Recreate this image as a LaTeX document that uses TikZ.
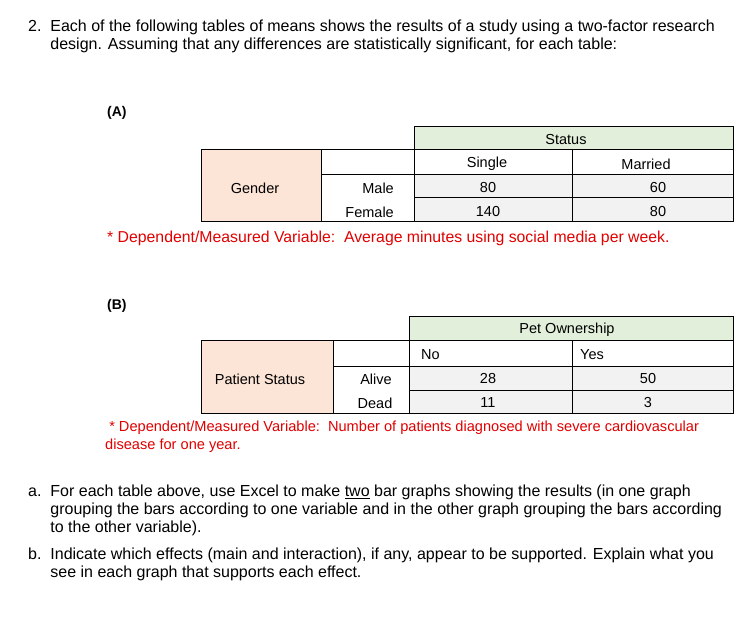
\documentclass[tikz,border=0pt]{standalone}
\usepackage{fontspec}
\setmainfont{Liberation Sans}
\usetikzlibrary{positioning}
\definecolor{hdrgreen}{HTML}{E2EFDA}
\definecolor{facorange}{HTML}{FCE4D6}
\definecolor{cellgrey}{HTML}{F2F2F2}
\definecolor{notered}{HTML}{E00000}
\tikzset{
  body/.style={anchor=west,inner sep=0pt,font=\fontsize{16}{18}\selectfont,align=left},
  cell/.style={inner sep=0pt,font=\fontsize{14.5}{16}\selectfont},
  note/.style={anchor=west,inner sep=0pt,text=notered,align=left},
  grid/.style={draw=black,line width=0.6pt},
}
\begin{document}
\begin{tikzpicture}[x=1pt,y=-1pt]
  \useasboundingbox (0,0) rectangle (747,632);
  % question text
  \node (q) [body] at (28,36) {2.\ \ Each of the following tables of means shows the results of a study using a two-factor research\\
  \phantom{2.\ \ }design. Assuming that any differences are statistically significant, for each table:};
  \node (la) [body,font=\fontsize{14}{16}\selectfont\bfseries] at (107,113) {(A)};
  % table A
  \fill[hdrgreen] (414,126) rectangle (733,149);
  \fill[facorange] (201,149) rectangle (321,221);
  \fill[cellgrey] (414,174) rectangle (733,221);
  \draw[grid] (414,126) rectangle (733,221);
  \draw[grid] (201,149) rectangle (733,221);
  \draw[grid] (321,149) -- (321,221);
  \draw[grid] (414,149) -- (733,149) (572,149) -- (572,221);
  \draw[grid] (321,174) -- (733,174) (414,197) -- (733,197);
  \node (status) [cell] at (566,140) {Status};
  \node (single) [cell] at (487,164) {Single};
  \node (married) [cell] at (646,164) {Married};
  \node (gender) [cell] at (255,188) {Gender};
  \node (male) [cell,anchor=east] at (394,188) {Male};
  \node (female) [cell,anchor=east] at (394,212) {Female};
  \node (a11) [cell] at (488,188) {80};
  \node (a12) [cell] at (658,188) {60};
  \node (a21) [cell] at (488,212) {140};
  \node (a22) [cell] at (658,212) {80};
  \node (na) [note,font=\fontsize{15.8}{18}\selectfont] at (107,238) {* Dependent/Measured Variable:\ \ Average minutes using social media per week.};
  \node (lb) [body,font=\fontsize{14}{16}\selectfont\bfseries] at (107,306) {(B)};
  % table B
  \fill[hdrgreen] (409,316) rectangle (733,340);
  \fill[facorange] (201,340) rectangle (333,413);
  \fill[cellgrey] (409,366) rectangle (733,413);
  \draw[grid] (409,316) rectangle (733,413);
  \draw[grid] (201,340) rectangle (733,413);
  \draw[grid] (333,340) -- (333,413);
  \draw[grid] (409,340) -- (733,340) (572,340) -- (572,413);
  \draw[grid] (333,366) -- (733,366) (409,390) -- (733,390);
  \node (pet) [cell] at (567,330) {Pet Ownership};
  \node (no) [cell,anchor=west] at (421,355) {No};
  \node (yes) [cell,anchor=west] at (580,355) {Yes};
  \node (pstat) [cell] at (260,379) {Patient Status};
  \node (alive) [cell] at (376,379) {Alive};
  \node (dead) [cell] at (375,403) {Dead};
  \node (b11) [cell] at (488,379) {28};
  \node (b12) [cell] at (648,379) {50};
  \node (b21) [cell] at (488,403) {11};
  \node (b22) [cell] at (648,403) {3};
  \node (nb) [note,font=\fontsize{14.6}{18}\selectfont] at (105,437) {\ * Dependent/Measured Variable:\ \ Number of patients diagnosed with severe cardiovascular\\disease for one year.};
  % parts a and b
  \node (pa) [body] at (28,510) {a.\ \ For each table above, use Excel to make \underline{two} bar graphs showing the results (in one graph\\
  \phantom{a.\ \ }grouping the bars according to one variable and in the other graph grouping the bars according\\
  \phantom{a.\ \ }to the other variable).};
  \node (pb) [body] at (28,564) {b.\ \ Indicate which effects (main and interaction), if any, appear to be supported. Explain what you\\
  \phantom{b.\ \ }see in each graph that supports each effect.};
\end{tikzpicture}
\end{document}
